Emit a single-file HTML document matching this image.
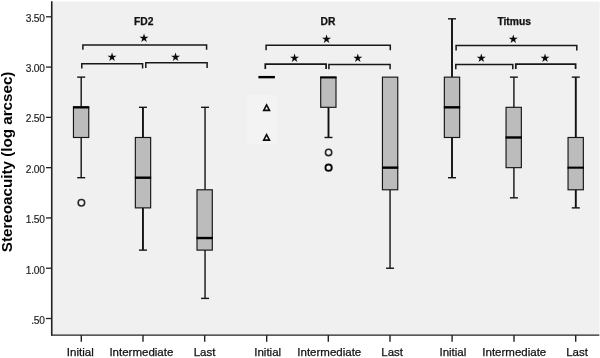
<!DOCTYPE html>
<html><head><meta charset="utf-8"><title>Stereoacuity boxplot</title>
<style>
html,body{margin:0;padding:0;background:#fff;}
body{width:600px;height:358px;overflow:hidden;}
svg{display:block;}
text{font-family:"Liberation Sans",sans-serif;fill:#111;}
.yt{font-size:10.2px;letter-spacing:-0.15px;text-anchor:end;fill:#1a1a1a;stroke:#1a1a1a;stroke-width:0.15;}
.xt{font-size:11.5px;text-anchor:middle;fill:#111;stroke:#111;stroke-width:0.25;}
.hd{font-size:10.3px;font-weight:bold;text-anchor:middle;fill:#111;stroke:#111;stroke-width:0.25;}
.ttl{font-size:15.2px;font-weight:bold;text-anchor:middle;fill:#000;}
.st{font-family:"DejaVu Sans",sans-serif;font-size:11.8px;text-anchor:middle;fill:#0a0a0a;}
.bx{fill:#bcbcbc;stroke:#151515;stroke-width:1.15;}
.md{stroke:#000;stroke-width:2.4;}
.w1{stroke:#1a1a1a;stroke-width:1.45;}
.w2{stroke:#111;stroke-width:1.9;}
.cp{stroke:#151515;stroke-width:1.4;}
.br{fill:none;stroke:#181818;stroke-width:1.5;}
</style></head><body>
<svg width="600" height="358" viewBox="0 0 600 358">
<rect x="0" y="0" width="600" height="358" fill="#fff"/>
<rect x="52" y="1.6" width="547.6" height="333.4" fill="#f0f0f0"/>
<rect x="247.2" y="94.9" width="29.4" height="49.8" fill="#f3f3f3"/>

<line x1="51.75" y1="1.3" x2="51.75" y2="335.6" stroke="#222" stroke-width="1.6"/>
<line x1="51" y1="335.1" x2="599.3" y2="335.1" stroke="#222" stroke-width="1.3"/>
<line x1="46" y1="16.8" x2="52" y2="16.8" stroke="#222" stroke-width="1.3"/>
<text class="yt" x="44.9" y="21.65">3.50</text>
<line x1="46" y1="67.08" x2="52" y2="67.08" stroke="#222" stroke-width="1.3"/>
<text class="yt" x="44.9" y="72.03">3.00</text>
<line x1="46" y1="117.37" x2="52" y2="117.37" stroke="#222" stroke-width="1.3"/>
<text class="yt" x="44.9" y="122.40">2.50</text>
<line x1="46" y1="167.66" x2="52" y2="167.66" stroke="#222" stroke-width="1.3"/>
<text class="yt" x="44.9" y="172.78">2.00</text>
<line x1="46" y1="217.94" x2="52" y2="217.94" stroke="#222" stroke-width="1.3"/>
<text class="yt" x="44.9" y="223.15">1.50</text>
<line x1="46" y1="268.22" x2="52" y2="268.22" stroke="#222" stroke-width="1.3"/>
<text class="yt" x="44.9" y="273.52">1.00</text>
<line x1="46" y1="318.51" x2="52" y2="318.51" stroke="#222" stroke-width="1.3"/>
<text class="yt" x="44.9" y="323.90">.50</text>
<line x1="81.3" y1="335" x2="81.3" y2="341.7" stroke="#222" stroke-width="1.4"/>
<text class="xt" x="80.3" y="355.8">Initial</text>
<line x1="143.0" y1="335" x2="143.0" y2="341.7" stroke="#222" stroke-width="1.4"/>
<text class="xt" x="141.4" y="355.8">Intermediate</text>
<line x1="204.7" y1="335" x2="204.7" y2="341.7" stroke="#222" stroke-width="1.4"/>
<text class="xt" x="204.5" y="355.8">Last</text>
<line x1="266.7" y1="335" x2="266.7" y2="341.7" stroke="#222" stroke-width="1.4"/>
<text class="xt" x="267.7" y="355.8">Initial</text>
<line x1="328.3" y1="335" x2="328.3" y2="341.7" stroke="#222" stroke-width="1.4"/>
<text class="xt" x="329.3" y="355.8">Intermediate</text>
<line x1="390.0" y1="335" x2="390.0" y2="341.7" stroke="#222" stroke-width="1.4"/>
<text class="xt" x="392.2" y="355.8">Last</text>
<line x1="452.1" y1="335" x2="452.1" y2="341.7" stroke="#222" stroke-width="1.4"/>
<text class="xt" x="452.9" y="355.8">Initial</text>
<line x1="514.0" y1="335" x2="514.0" y2="341.7" stroke="#222" stroke-width="1.4"/>
<text class="xt" x="514.3" y="355.8">Intermediate</text>
<line x1="575.7" y1="335" x2="575.7" y2="341.7" stroke="#222" stroke-width="1.4"/>
<text class="xt" x="577.1" y="355.8">Last</text>
<text class="ttl" transform="translate(11.7,161.9) rotate(-90)">Stereoacuity (log arcsec)</text>
<text class="hd" x="143.8" y="24.8">FD2</text>
<text class="hd" x="328" y="24.8">DR</text>
<text class="hd" x="514.2" y="24.8">Titmus</text>
<line class="w1" x1="81.2" y1="77.14" x2="81.2" y2="107.31"/>
<line class="cp" x1="77.2" y1="77.14" x2="85.2" y2="77.14"/>
<line class="w1" x1="81.2" y1="137.48" x2="81.2" y2="177.71"/>
<line class="cp" x1="77.2" y1="177.71" x2="85.2" y2="177.71"/>
<rect class="bx" x="73.45" y="107.31" width="15.30" height="30.17"/>
<line class="md" style="stroke-width:2.4" x1="72.95" y1="107.31" x2="89.25" y2="107.31"/>
<line class="w2" x1="142.95" y1="107.31" x2="142.95" y2="137.48"/>
<line class="cp" x1="138.95" y1="107.31" x2="146.95" y2="107.31"/>
<line class="w2" x1="142.95" y1="207.88" x2="142.95" y2="250.12"/>
<line class="cp" x1="138.95" y1="250.12" x2="146.95" y2="250.12"/>
<rect class="bx" x="135.35" y="137.48" width="15.30" height="70.40"/>
<line class="md" style="stroke-width:2.4" x1="134.85" y1="177.71" x2="151.15" y2="177.71"/>
<line class="w1" x1="205.05" y1="107.31" x2="205.05" y2="189.78"/>
<line class="cp" x1="201.05" y1="107.31" x2="209.05" y2="107.31"/>
<line class="w1" x1="205.05" y1="250.12" x2="205.05" y2="298.4"/>
<line class="cp" x1="201.05" y1="298.4" x2="209.05" y2="298.4"/>
<rect class="bx" x="197.00" y="189.78" width="15.30" height="60.34"/>
<line class="md" style="stroke-width:2.4" x1="196.50" y1="238.05" x2="212.80" y2="238.05"/>
<line class="w2" x1="328.5" y1="107.31" x2="328.5" y2="137.48"/>
<line class="cp" x1="324.5" y1="137.48" x2="332.5" y2="137.48"/>
<rect class="bx" x="320.70" y="77.14" width="15.30" height="30.17"/>
<line class="md" style="stroke-width:1.9" x1="320.20" y1="77.49" x2="336.50" y2="77.49"/>
<line class="w1" x1="390.05" y1="189.78" x2="390.05" y2="268.22"/>
<line class="cp" x1="386.05" y1="268.22" x2="394.05" y2="268.22"/>
<rect class="bx" x="382.45" y="77.14" width="15.30" height="112.64"/>
<line class="md" style="stroke-width:2.4" x1="381.95" y1="167.66" x2="398.25" y2="167.66"/>
<line class="w2" x1="452.0" y1="18.81" x2="452.0" y2="77.14"/>
<line class="cp" x1="448.0" y1="18.81" x2="456.0" y2="18.81"/>
<line class="w2" x1="452.0" y1="137.48" x2="452.0" y2="177.71"/>
<line class="cp" x1="448.0" y1="177.71" x2="456.0" y2="177.71"/>
<rect class="bx" x="444.35" y="77.14" width="15.30" height="60.34"/>
<line class="md" style="stroke-width:2.4" x1="443.85" y1="107.31" x2="460.15" y2="107.31"/>
<line class="w1" x1="513.9" y1="77.14" x2="513.9" y2="107.31"/>
<line class="cp" x1="509.9" y1="77.14" x2="517.9" y2="77.14"/>
<line class="w1" x1="513.9" y1="167.66" x2="513.9" y2="197.83"/>
<line class="cp" x1="509.9" y1="197.83" x2="517.9" y2="197.83"/>
<rect class="bx" x="506.05" y="107.31" width="15.30" height="60.35"/>
<line class="md" style="stroke-width:2.4" x1="505.55" y1="137.48" x2="521.85" y2="137.48"/>
<line class="w2" x1="575.8" y1="77.14" x2="575.8" y2="137.48"/>
<line class="cp" x1="571.8" y1="77.14" x2="579.8" y2="77.14"/>
<line class="w2" x1="575.8" y1="189.78" x2="575.8" y2="207.88"/>
<line class="cp" x1="571.8" y1="207.88" x2="579.8" y2="207.88"/>
<rect class="bx" x="568.05" y="137.48" width="15.30" height="52.30"/>
<line class="md" style="stroke-width:2.1" x1="567.55" y1="167.66" x2="583.85" y2="167.66"/>
<line class="md" x1="258.4" y1="77.14" x2="274.9" y2="77.14"/>
<circle cx="81.4" cy="202.75" r="3.25" fill="#f4f4f4" stroke="#2a2a2a" stroke-width="1.6"/>
<circle cx="328.6" cy="152.47" r="3.15" fill="#f4f4f4" stroke="#262626" stroke-width="1.6"/>
<circle cx="328.6" cy="167.66" r="3.15" fill="#f4f4f4" stroke="#0a0a0a" stroke-width="1.9"/>
<polygon points="266.6,104.91 263.7,110.41 269.5,110.41" fill="#f6f6f6" stroke="#0a0a0a" stroke-width="1.6" stroke-linejoin="miter"/>
<polygon points="266.6,134.63 263.7,140.13 269.5,140.13" fill="#f6f6f6" stroke="#0a0a0a" stroke-width="1.6" stroke-linejoin="miter"/>
<path class="br" style="stroke-width:1.5" d="M82.9,49.8 V45.05 H206.6 V49.8"/>
<path class="br" style="stroke-width:1.5" d="M81.8,68.6 V63.75 H142.6 V68.6"/>
<path class="br" style="stroke-width:1.5" d="M145.8,68.1 V62.85 H207.1 V68.1"/>
<path class="br" style="stroke-width:1.5" d="M266.1,50.2 V45.2 H390.3 V50.2"/>
<path class="br" style="stroke-width:1.75" d="M265.3,68.9 V64.0 H326.1 V68.9"/>
<path class="br" style="stroke-width:1.5" d="M328.9,69.2 V64.4 H390.1 V69.2"/>
<path class="br" style="stroke-width:1.5" d="M456.1,50.4 V45.55 H576.8 V50.4"/>
<path class="br" style="stroke-width:1.5" d="M455.8,69.2 V64.5 H512.8 V69.2"/>
<path class="br" style="stroke-width:1.75" d="M515.8,68.9 V64.0 H575.6 V68.9"/>
<text class="st" x="144.1" y="42.2">★</text>
<text class="st" x="112.05" y="61.05">★</text>
<text class="st" x="175.55" y="61.05">★</text>
<text class="st" x="326.45" y="42.7">★</text>
<text class="st" x="294.5" y="61.9">★</text>
<text class="st" x="357.9" y="62.2">★</text>
<text class="st" x="513.3" y="43.3">★</text>
<text class="st" x="481.2" y="62.2">★</text>
<text class="st" x="545.05" y="62.1">★</text>
</svg></body></html>
